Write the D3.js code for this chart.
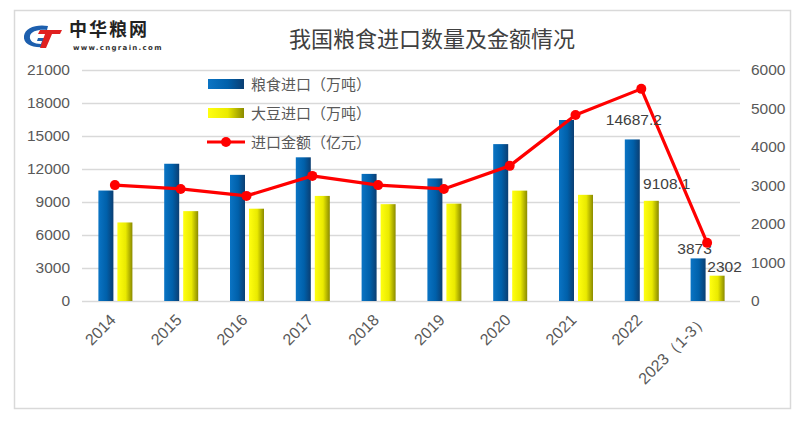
<!DOCTYPE html>
<html><head><meta charset="utf-8">
<script src="https://cdn.jsdelivr.net/npm/d3@7"></script>
<style>body{margin:0;background:#fff}svg{display:block}</style>
</head><body><svg id="c" width="800" height="421"></svg>
<script>
const categories = ["2014","2015","2016","2017","2018","2019","2020","2021","2022","2023（1-3）"];
const grainImports = [10042,12477,11468,13062,11555,11144,14262,16454,14687.2,3873];
const soyImports = [7140,8169,8391,9553,8803,8851,10033,9652,9108.1,2302];
const importValue = [3010,2910,2730,3250,3010,2910,3510,4830,5510,1510];
const leftTicks = [0,3000,6000,9000,12000,15000,18000,21000];
const rightTicks = [0,1000,2000,3000,4000,5000,6000];
const seriesNames = ["粮食进口（万吨）","大豆进口（万吨）","进口金额（亿元）"];
const labelled = {8:true, 9:true};

const svg = d3.select("#c");
const m={l:82,r:740,t:70,b:301};
svg.append("rect").attr("x",14.5).attr("y",10.5).attr("width",776).attr("height",398)
  .attr("fill","#fff").attr("stroke","#d9d9d9").attr("stroke-width",1.5);

const defs=svg.append("defs");
const gb=defs.append("linearGradient").attr("id","gb");
gb.append("stop").attr("offset","0").attr("stop-color","#0a74c4");
gb.append("stop").attr("offset","0.55").attr("stop-color","#0060aa");
gb.append("stop").attr("offset","1").attr("stop-color","#0b3e72");
const gy=defs.append("linearGradient").attr("id","gy");
gy.append("stop").attr("offset","0").attr("stop-color","#ffff10");
gy.append("stop").attr("offset","0.55").attr("stop-color","#eaea00");
gy.append("stop").attr("offset","1").attr("stop-color","#8a8a00");

const x=d3.scaleBand().domain(categories).range([m.l,m.r]).paddingInner(0).paddingOuter(0);
const yL=d3.scaleLinear().domain([0,21000]).range([m.b,m.t]);
const yR=d3.scaleLinear().domain([0,6000]).range([m.b,m.t]);
const fmt=d3.format("d");

svg.append("g").selectAll("line").data(leftTicks).join("line")
  .attr("x1",m.l).attr("x2",m.r).attr("y1",d=>yL(d)+0.5).attr("y2",d=>yL(d)+0.5)
  .attr("stroke","#d9d9d9").attr("stroke-width",1.5);

const axL=d3.axisLeft(yL).tickValues(leftTicks).tickFormat(fmt).tickSize(0).tickPadding(12);
const gL=svg.append("g").attr("transform",`translate(${m.l},0)`).call(axL);
gL.select(".domain").remove();
gL.selectAll("text").attr("font-family","Liberation Sans, Arial").attr("font-size",15.5).attr("fill","#595959");
const axR=d3.axisRight(yR).tickValues(rightTicks).tickFormat(fmt).tickSize(0).tickPadding(10);
const gR=svg.append("g").attr("transform",`translate(${m.r},0)`).call(axR);
gR.select(".domain").remove();
gR.selectAll("text").attr("font-family","Liberation Sans, Arial").attr("font-size",15.5).attr("fill","#595959").attr("x",11);

const axB=d3.axisBottom(x).tickSize(0).tickPadding(0);
const gB=svg.append("g").attr("transform",`translate(0,${m.b})`).call(axB);
gB.select(".domain").remove();
gB.selectAll("text").attr("font-family","Liberation Sans, Arial").attr("font-size",16).attr("fill","#595959")
  .attr("text-anchor","end").attr("dy",0).attr("y",0)
  .attr("transform","translate(2,20) rotate(-45)");

const bw=15, gap=4;
svg.append("g").selectAll("rect").data(grainImports).join("rect")
  .attr("x",(d,i)=>x(categories[i])+x.bandwidth()/2-bw-gap/2+0.5).attr("width",bw)
  .attr("y",d=>yL(d)).attr("height",d=>yL(0)-yL(d)).attr("fill","url(#gb)");
svg.append("g").selectAll("rect").data(soyImports).join("rect")
  .attr("x",(d,i)=>x(categories[i])+x.bandwidth()/2+gap/2+0.5).attr("width",bw)
  .attr("y",d=>yL(d)).attr("height",d=>yL(0)-yL(d)).attr("fill","url(#gy)");

const cx=(i)=>x(categories[i])+x.bandwidth()/2;
const line=d3.line().x((d,i)=>cx(i)).y(d=>yR(d));
svg.append("path").datum(importValue).attr("d",line).attr("fill","none")
  .attr("stroke","#ff0000").attr("stroke-width",3.2).attr("stroke-linejoin","round");

const lab=svg.append("g").attr("font-family","Liberation Sans, Arial").attr("font-size",15.5).attr("fill","#404040");
grainImports.forEach((v,i)=>{ if(!labelled[i]) return;
  lab.append("text").attr("x",cx(i)-bw/2-gap/2+ (i===8?2:-3)).attr("y",yL(v)-(i===8?14:4))
   .attr("text-anchor","middle").text(String(v));});
soyImports.forEach((v,i)=>{ if(!labelled[i]) return;
  lab.append("text").attr("x",cx(i)+bw/2+gap/2+ (i===8?16:8)).attr("y",yL(v)-(i===8?12:4))
   .attr("text-anchor","middle").text(String(v));});

svg.append("g").selectAll("circle").data(importValue).join("circle")
  .attr("cx",(d,i)=>cx(i)).attr("cy",d=>yR(d)).attr("r",5).attr("fill","#ff0000");

const lg=svg.append("g").attr("font-family","Noto Sans CJK SC, sans-serif").attr("font-size",15).attr("fill","#595959");
const ly=[84,113,142];
lg.append("rect").attr("x",208).attr("y",ly[0]-5).attr("width",36).attr("height",10).attr("fill","url(#gb)");
lg.append("rect").attr("x",208).attr("y",ly[1]-5).attr("width",36).attr("height",10).attr("fill","url(#gy)");
lg.append("line").attr("x1",207).attr("x2",245).attr("y1",ly[2]).attr("y2",ly[2]).attr("stroke","#ff0000").attr("stroke-width",3.2);
lg.append("circle").attr("cx",226).attr("cy",ly[2]).attr("r",5).attr("fill","#ff0000");
seriesNames.forEach((s,i)=>lg.append("text").attr("x",251).attr("y",ly[i]+5.5).text(s));

svg.append("text").attr("x",432).attr("y",47).attr("text-anchor","middle")
  .attr("font-family","Noto Sans CJK SC, sans-serif").attr("font-size",22).attr("fill","#404040")
  .text("我国粮食进口数量及金额情况");

const lo=svg.append("g");
lo.append("path").attr("d","M48,26 C36,24 25,28 24,36 C23,44 32,48 44,47 L47,38 L38,38 L37,41 L42,41 L41,44 C34,44 29,41 30,36 C31,31 39,29 47,30 Z").attr("fill","#1d5fae");
lo.append("path").attr("d","M40,30 L62,30 L60,34 L52,34 L46,48 L40,48 L45,34 L38,34 Z").attr("fill","#e02020");
lo.append("text").attr("x",69).attr("y",36).attr("font-family","Noto Sans CJK SC, sans-serif").attr("font-weight","bold")
  .attr("font-size",18).attr("fill","#222").attr("letter-spacing",2).text("中华粮网");
lo.append("text").attr("x",73).attr("y",50).attr("font-family","DejaVu Sans, sans-serif").attr("font-weight","bold")
  .attr("font-size",7).attr("fill","#333").attr("letter-spacing",1.3).text("www.cngrain.com");
</script></body></html>
